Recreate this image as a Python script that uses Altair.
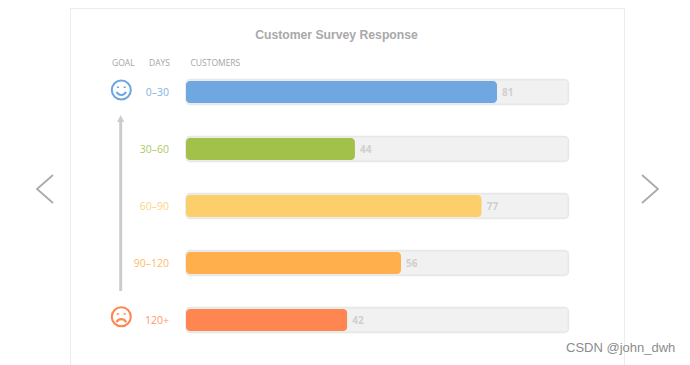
import altair as alt
import pandas as pd

days = ["0–30", "30–60", "60–90", "90–120", "120+"]
customers = [81, 44, 77, 56, 42]
track_total = [99.6, 99.6, 99.6, 99.6, 99.6]
colors = ["#6fa8e0", "#a1c14a", "#fdcf6a", "#ffaf4c", "#ff8651"]
headers = ["GOAL", "DAYS", "CUSTOMERS"]
title_text = "Customer Survey Response"
watermark = "CSDN @john_dwh"

W, H = 674, 357
df = pd.DataFrame({"days": days, "customers": customers, "total": track_total})
one = pd.DataFrame({"a": [0]})

xs = alt.Scale(domain=[-178 / 3.84, (W - 178) / 3.84], nice=False, zero=False)
ys = alt.Scale(type="point", domain=days, range=[84, 312], padding=0)
X = lambda f: alt.X(f, type="quantitative", scale=xs, axis=None)
Y = alt.Y("days:N", scale=ys, axis=None)
C = alt.Color("days:N", scale=alt.Scale(domain=days, range=colors), legend=None)

base = alt.Chart(df)
track = base.mark_bar(height=25, cornerRadius=4, color="#f1f1f1", stroke="#e8e8e8", strokeWidth=1.5).encode(
    x=X("total"), y=Y)
bars = base.mark_bar(height=22, cornerRadius=4).encode(x=X("customers"), y=Y, color=C)
vals = base.mark_text(align="left", dx=5, dy=0.5, font="Open Sans", fontWeight="bold", fontSize=10,
                      color="#cfcfcf").encode(x=X("customers"), y=Y, text="customers:Q")
labels = base.mark_text(align="right", font="Open Sans", fontSize=10.5, dy=0.5, opacity=0.85).encode(
    x=alt.value(161), y=Y, color=C, text="days:N")


def txt(s, x, y, **kw):
    return alt.Chart(one).mark_text(text=s, **kw).encode(x=alt.value(x), y=alt.value(y))


title = txt(title_text, 328.5, 27, font="Liberation Sans", fontWeight="bold", fontSize=12.2, color="#a9a9a9")
head = alt.layer(*[
    txt(s, x, 55, align="left", font="Open Sans", fontSize=8.5, color="#a5a5a5")
    for s, x in zip(headers, [104, 141, 182.5])
])
mark = txt(watermark, 558, 340, align="left", font="Liberation Sans", fontSize=13, color="#8c8c8c")


def rule(x, y, x2=None, y2=None, color="#ececec", w=1):
    enc = dict(x=alt.value(x), y=alt.value(y))
    if x2 is not None:
        enc["x2"] = alt.value(x2)
    if y2 is not None:
        enc["y2"] = alt.value(y2)
    return alt.Chart(one).mark_rule(color=color, strokeWidth=w).encode(**enc)


frame = rule(62.5, 0, y2=H) + rule(616.5, 0, y2=H) + rule(62.5, 0.5, x2=616.5)
arrow = rule(112.7, 111, y2=283, color="#cccccc", w=3)


def sym(path, x, y, size, color, w, fill="transparent"):
    return alt.Chart(one).mark_point(shape=path, size=size, stroke=color, strokeWidth=w, fill=fill,
                                     opacity=1, filled=False).encode(x=alt.value(x), y=alt.value(y))


CIRCLE = "M -1 0 A 1 1 0 1 1 1 0 A 1 1 0 1 1 -1 0 Z"
EYES = "M -0.36 -0.36 L -0.36 -0.2 M 0.36 -0.36 L 0.36 -0.2"
happy = CIRCLE + " " + EYES + " M -0.5 0.2 A 0.55 0.55 0 0 0 0.5 0.2"
sad = CIRCLE + " " + EYES + " M -0.5 0.58 A 0.55 0.55 0 0 1 0.5 0.58"
smile = sym(happy, 113.3, 82, 361, colors[0], 2.1)
frown = sym(sad, 113.3, 308.7, 361, colors[4], 2.1)
head_tri = alt.Chart(one).mark_point(shape="M 0 -1 L 1 1 L -1 1 Z", size=49, fill="#cccccc", filled=True,
                                     opacity=1, strokeWidth=0).encode(x=alt.value(112.7), y=alt.value(110.5))
left = sym("M 0.57 -1 L -0.57 0 L 0.57 1", 37, 181, 784, "#aaaaaa", 1.8)
right = sym("M -0.57 -1 L 0.57 0 L -0.57 1", 642, 181, 784, "#aaaaaa", 1.8)

chart = alt.layer(frame, track, bars, vals, labels, title, head, arrow, head_tri, smile, frown, left, right, mark).properties(
    width=W, height=H, padding=0, autosize=alt.AutoSizeParams(type="none"),
).configure_view(stroke=None).resolve_scale(x="shared", y="shared")

chart.save("out.html", embed_options={"renderer": "svg", "actions": False})
